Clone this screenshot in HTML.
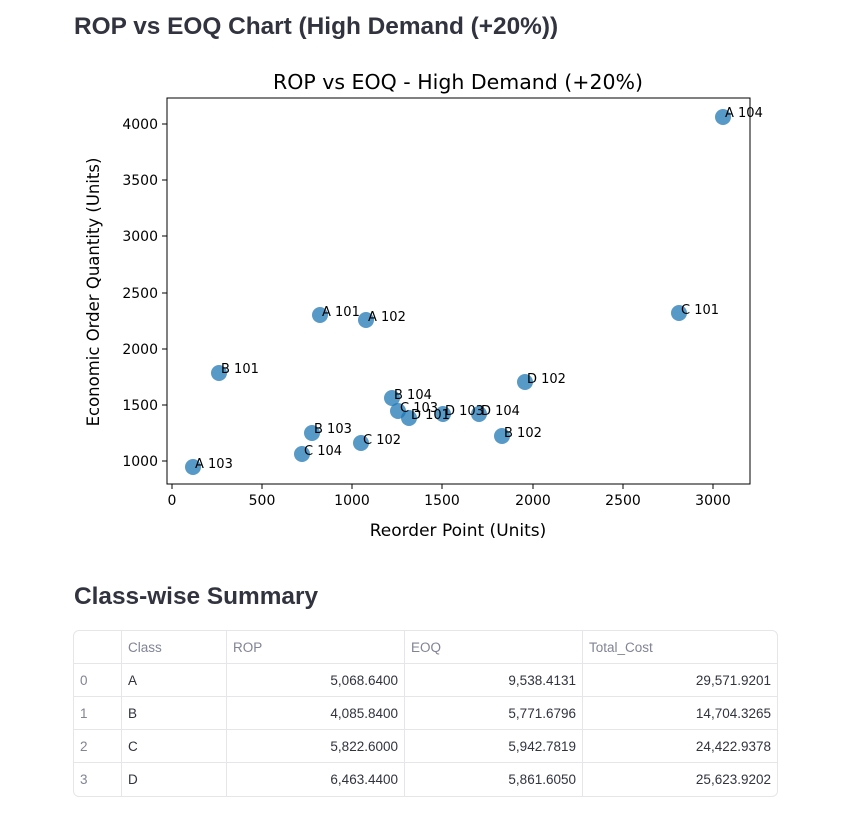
<!DOCTYPE html>
<html><head><meta charset="utf-8"><style>
body{margin:0;background:#fff;width:858px;height:820px;position:relative;font-family:"Liberation Sans",sans-serif;overflow:hidden}
h2{position:absolute;margin:0;left:74px;font-size:24.4px;font-weight:bold;color:#31333f}
table{position:absolute;left:73px;top:630px;border-collapse:separate;border-spacing:0;border:1px solid #e6e6ea;border-radius:6px;font-size:13.5px;color:#31333f}
td{border-right:1px solid #e6e6ea;border-bottom:1px solid #e6e6ea;height:33px;padding:0 6px;box-sizing:border-box}
tr td:last-child{border-right:none}
tr:last-child td{border-bottom:none}
.h td{color:#808495}
.i{color:#808495}
.r{text-align:right}
</style></head><body>
<h2 style="top:13px">ROP vs EOQ Chart (High Demand (+20%))</h2>
<svg width="858" height="560" style="position:absolute;left:0;top:0" font-family="DejaVu Sans, sans-serif">
<text x="458" y="89" font-size="20.5" text-anchor="middle">ROP vs EOQ - High Demand (+20%)</text>
<rect x="167" y="98" width="583" height="386" fill="none" stroke="#000" stroke-width="1"/>
<g font-size="14" text-anchor="middle">
<g stroke="#000"><line x1="172" y1="484" x2="172" y2="489"/><line x1="262" y1="484" x2="262" y2="489"/><line x1="352" y1="484" x2="352" y2="489"/><line x1="442" y1="484" x2="442" y2="489"/><line x1="533" y1="484" x2="533" y2="489"/><line x1="623" y1="484" x2="623" y2="489"/><line x1="713" y1="484" x2="713" y2="489"/></g>
<text x="172" y="505">0</text><text x="262" y="505">500</text><text x="352" y="505">1000</text><text x="442" y="505">1500</text><text x="533" y="505">2000</text><text x="623" y="505">2500</text><text x="713" y="505">3000</text>
<text x="458" y="536" font-size="17">Reorder Point (Units)</text>
</g>
<g font-size="14" text-anchor="end">
<g stroke="#000"><line x1="162" y1="461" x2="167" y2="461"/><line x1="162" y1="405" x2="167" y2="405"/><line x1="162" y1="349" x2="167" y2="349"/><line x1="162" y1="293" x2="167" y2="293"/><line x1="162" y1="236" x2="167" y2="236"/><line x1="162" y1="180" x2="167" y2="180"/><line x1="162" y1="124" x2="167" y2="124"/></g>
<text x="158" y="466">1000</text><text x="158" y="410">1500</text><text x="158" y="354">2000</text><text x="158" y="298">2500</text><text x="158" y="241">3000</text><text x="158" y="185">3500</text><text x="158" y="129">4000</text>
</g>
<text transform="translate(99,292) rotate(-90)" font-size="16.5" text-anchor="middle">Economic Order Quantity (Units)</text>
<g fill="#1f77b4" fill-opacity="0.75">
<circle cx="723" cy="117" r="8"/><circle cx="679" cy="313" r="8"/><circle cx="320" cy="315" r="8"/><circle cx="366" cy="320" r="8"/><circle cx="219" cy="373" r="8"/><circle cx="525" cy="382" r="8"/><circle cx="392" cy="398" r="8"/><circle cx="398" cy="411" r="8"/><circle cx="409" cy="418" r="8"/><circle cx="443" cy="414" r="8"/><circle cx="479" cy="414" r="8"/><circle cx="502" cy="436" r="8"/><circle cx="312" cy="433" r="8"/><circle cx="361" cy="443" r="8"/><circle cx="302" cy="454" r="8"/><circle cx="193" cy="467" r="8"/>
</g>
<g font-size="13">
<text x="725" y="117">A 104</text><text x="681" y="314">C 101</text><text x="322" y="316">A 101</text><text x="368" y="321">A 102</text><text x="221" y="373">B 101</text><text x="527" y="383">D 102</text><text x="394" y="399">B 104</text><text x="400" y="412">C 103</text><text x="411" y="419">D 101</text><text x="445" y="415">D 103</text><text x="481" y="415">D 104</text><text x="504" y="437">B 102</text><text x="314" y="433">B 103</text><text x="363" y="444">C 102</text><text x="304" y="455">C 104</text><text x="195" y="468">A 103</text>
</g>
</svg>
<h2 style="top:583px">Class-wise Summary</h2>
<table>
<tr class="h"><td style="width:48px"></td><td style="width:105px">Class</td><td style="width:178px">ROP</td><td style="width:178px">EOQ</td><td style="width:194px">Total_Cost</td></tr>
<tr><td class="i">0</td><td>A</td><td class="r">5,068.6400</td><td class="r">9,538.4131</td><td class="r">29,571.9201</td></tr>
<tr><td class="i">1</td><td>B</td><td class="r">4,085.8400</td><td class="r">5,771.6796</td><td class="r">14,704.3265</td></tr>
<tr><td class="i">2</td><td>C</td><td class="r">5,822.6000</td><td class="r">5,942.7819</td><td class="r">24,422.9378</td></tr>
<tr><td class="i">3</td><td>D</td><td class="r">6,463.4400</td><td class="r">5,861.6050</td><td class="r">25,623.9202</td></tr>
</table>
</body></html>
